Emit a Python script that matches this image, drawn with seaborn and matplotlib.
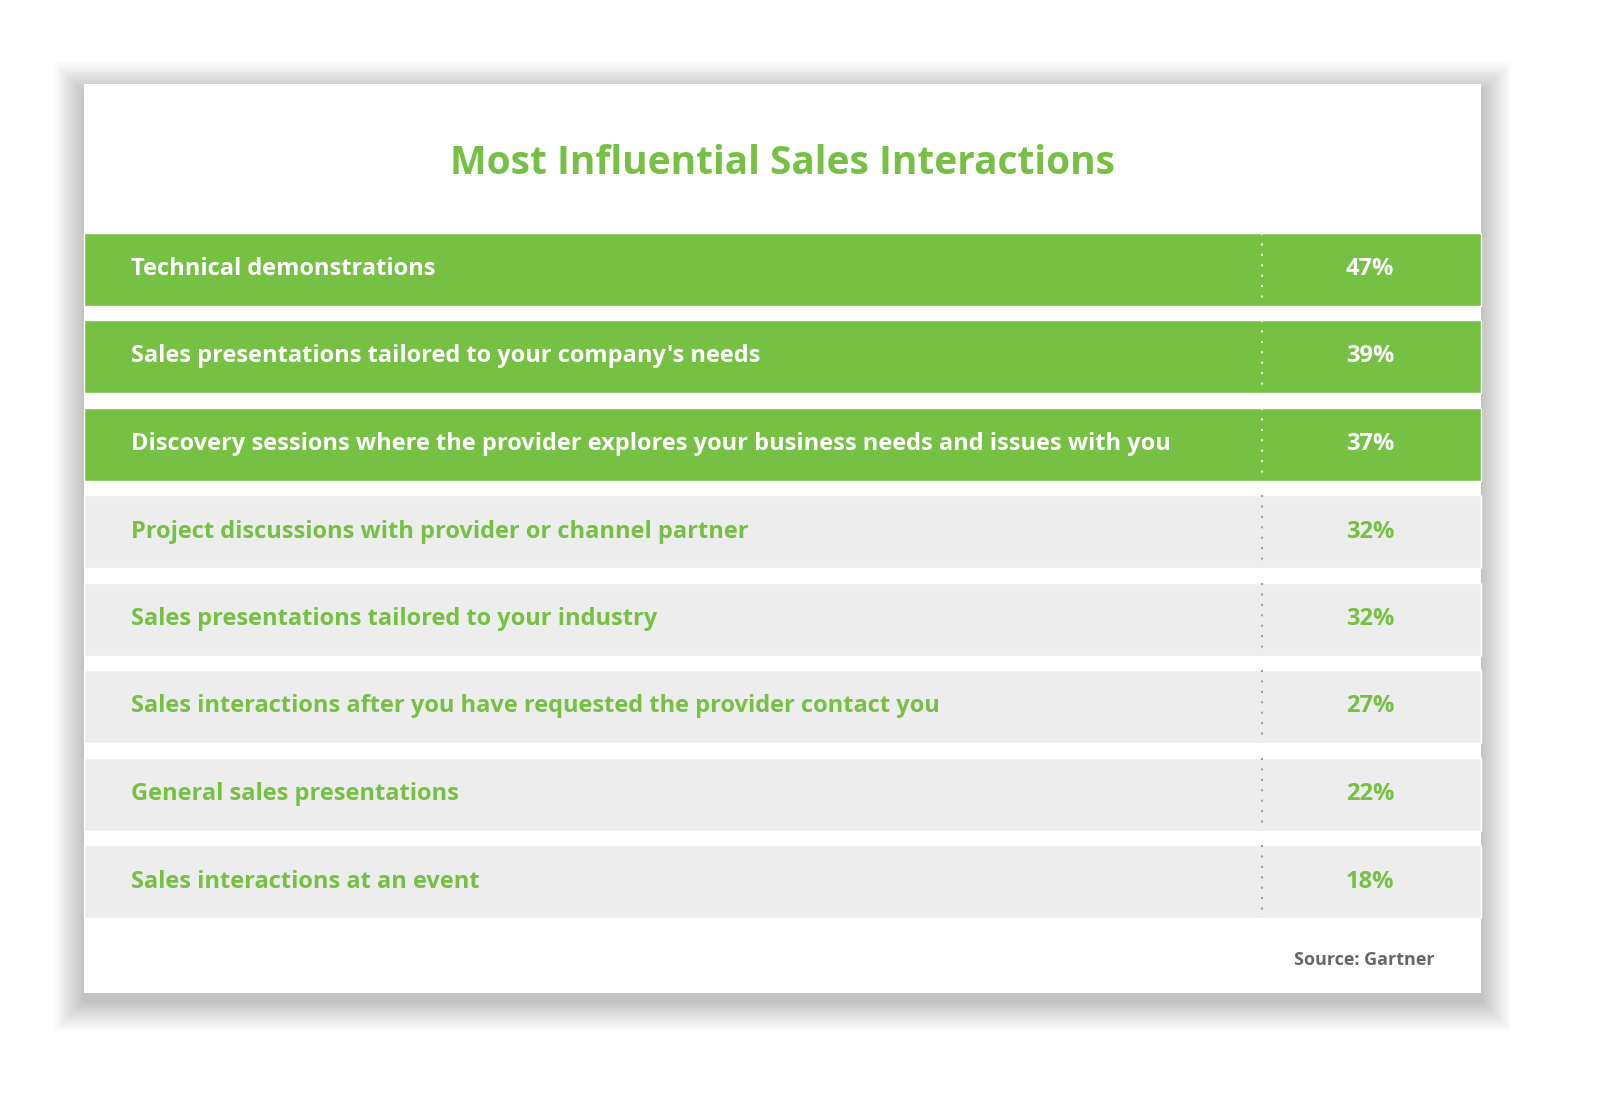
import matplotlib
matplotlib.use("Agg")
import matplotlib.pyplot as plt
import seaborn as sns
from matplotlib.patches import Rectangle

categories = ["Technical demonstrations",
              "Sales presentations tailored to your company's needs",
              "Discovery sessions where the provider explores your business needs and issues with you",
              "Project discussions with provider or channel partner",
              "Sales presentations tailored to your industry",
              "Sales interactions after you have requested the provider contact you",
              "General sales presentations",
              "Sales interactions at an event"]
values = [47, 39, 37, 32, 32, 27, 22, 18]
highlight = [True, True, True, False, False, False, False, False]
title = "Most Influential Sales Interactions"
source = "Source: Gartner"

sns.set_theme(style="white")
plt.rcParams['font.family'] = ['Open Sans', 'DejaVu Sans']
GREEN = "#76C043"
GRAY = "#EDEDED"

fig = plt.figure(figsize=(16, 11.02), dpi=100)
ax = fig.add_axes([0, 0, 1, 1])
ax.set_xlim(0, 1600); ax.set_ylim(1102, 0); ax.axis("off")

# shadow
for k in range(30, 0, -1):
    ax.add_patch(Rectangle((84 - k, 84 - k + 8), 1397 + 2 * k, 909 + 2 * k,
                           color="black", alpha=0.006, lw=0, zorder=0))
ax.add_patch(Rectangle((84, 84), 1397, 909, color="white", lw=0, zorder=1))

ax.text(783, 163, title, ha="center", va="center", fontsize=28, fontweight="bold",
        color=GREEN, zorder=3)

ys = [269 + i * 87.5 for i in range(len(categories))]
ax.barh(ys, [1397] * len(ys), left=84, height=73,
        color=[GREEN if h else GRAY for h in highlight], zorder=2)
for y, c, v, h in zip(ys, categories, values, highlight):
    col = "white" if h else GREEN
    ax.text(131, y, c, ha="left", va="center", fontsize=17, fontweight="bold", color=col, zorder=3)
    ax.text(1370, y, f"{v}%", ha="center", va="center", fontsize=17, fontweight="bold", color=col, zorder=3)
    ax.plot([1262, 1262], [y - 36.5, y + 36.5], ls=(0, (1, 4)), lw=1.5,
            color="#E8F5DC" if h else "#A0A0A0", zorder=3)

ax.text(1435, 960, source, ha="right", va="center", fontsize=13, fontweight="bold",
        color="#666666", zorder=3)

fig.savefig("out.png", dpi=100, facecolor="white")
